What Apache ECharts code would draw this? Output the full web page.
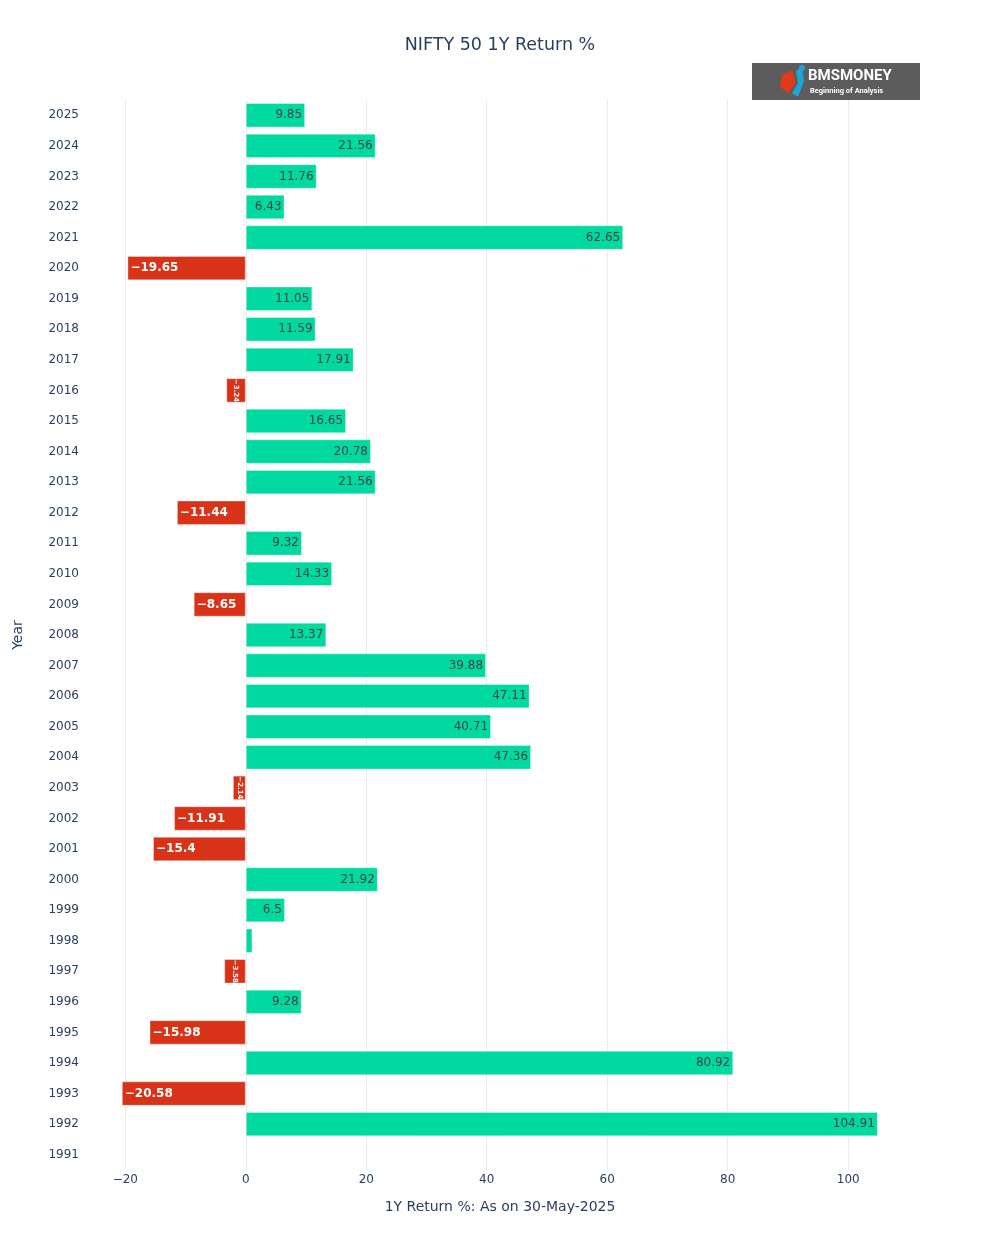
<!DOCTYPE html>
<html>
<head>
<meta charset="utf-8">
<script src="https://cdn.jsdelivr.net/npm/echarts@6/dist/echarts.min.js"></script>
<style>
  html, body { margin: 0; padding: 0; background: #fff; }
  #chart { width: 1000px; height: 1250px; }
</style>
</head>
<body>
<div id="chart"></div>
<script>
// years bottom -> top
var years = ['1991','1992','1993','1994','1995','1996','1997','1998','1999','2000',
  '2001','2002','2003','2004','2005','2006','2007','2008','2009','2010',
  '2011','2012','2013','2014','2015','2016','2017','2018','2019','2020',
  '2021','2022','2023','2024','2025'];
var returns = [null, 104.91, -20.58, 80.92, -15.98, 9.28, -3.58, 1.1, 6.5, 21.92,
  -15.4, -11.91, -2.14, 47.36, 40.71, 47.11, 39.88, 13.37, -8.65, 14.33,
  9.32, -11.44, 21.56, 20.78, 16.65, -3.24, 17.91, 11.59, 11.05, -19.65,
  62.65, 6.43, 11.76, 21.56, 9.85];
var xTicks = [-20, 0, 20, 40, 60, 80, 100];

var GREEN = '#00d9a0';
var RED = '#d83318';
var TXT = '#2a3f5f';
var FONT = 'DejaVu Sans';

function fmt(v) {
  return String(v).replace('-', '\u2212');
}

var barData = returns.map(function (v) {
  if (v === null) return { value: null };
  var neg = v < 0;
  var small = Math.abs(v) < 4;
  var label;
  if (Math.abs(v) < 1.5) {
    label = { show: false };
  } else if (small) {
    label = {
      show: true, position: 'inside', rotate: -90,
      color: '#fff', fontSize: 7, fontWeight: 'bold',
      formatter: function () { return fmt(v); }
    };
  } else if (neg) {
    label = {
      show: true, position: 'insideLeft', distance: 3,
      color: '#fff', fontSize: 12, fontWeight: 'bold',
      formatter: function () { return fmt(v); }
    };
  } else {
    label = {
      show: true, position: 'insideRight', distance: 3,
      color: '#444', fontSize: 12,
      formatter: function () { return fmt(v); }
    };
  }
  return {
    value: v,
    itemStyle: { color: neg ? RED : GREEN },
    label: label
  };
});

var chart = echarts.init(document.getElementById('chart'));
chart.setOption({
  animation: false,
  backgroundColor: '#fff',
  textStyle: { fontFamily: FONT },
  title: {
    text: 'NIFTY 50 1Y Return %',
    left: 'center', top: 31,
    textStyle: { color: TXT, fontSize: 17.5, fontWeight: 'normal', fontFamily: FONT }
  },
  grid: { left: 100, right: 100, top: 100, bottom: 80, containLabel: false },
  xAxis: {
    type: 'value',
    min: -24.2,
    max: 108.6,
    name: '1Y Return %: As on 30-May-2025',
    nameLocation: 'middle',
    nameGap: 30,
    nameTextStyle: { color: TXT, fontSize: 14, fontFamily: FONT },
    axisLine: { show: false },
    axisTick: { show: false, customValues: xTicks },
    axisLabel: {
      customValues: xTicks, color: TXT, fontSize: 12, margin: 4, fontFamily: FONT,
      formatter: function (v) { return fmt(v); }
    },
    splitLine: { show: true, lineStyle: { color: '#ebebeb', width: 1 } }
  },
  yAxis: {
    type: 'category',
    data: years,
    name: 'Year',
    nameLocation: 'middle',
    nameGap: 75,
    nameRotate: 90,
    nameTextStyle: { color: TXT, fontSize: 14, fontFamily: FONT },
    axisLine: { show: false },
    axisTick: { show: false },
    axisLabel: { color: TXT, fontSize: 12, margin: 21, interval: 0, fontFamily: FONT },
    splitLine: { show: false }
  },
  series: [{
    type: 'bar',
    data: barData,
    barCategoryGap: '20%',
    itemStyle: { borderColor: 'rgba(255,255,255,0.35)', borderWidth: 1 }
  }],
  graphic: [{
    type: 'group',
    left: 752, top: 63,
    children: [
      { type: 'rect', shape: { x: 0, y: 0, width: 168, height: 37 }, style: { fill: '#5c5c5c' } },
      { type: 'polygon', shape: { points: [[30, 12], [40, 7], [44, 20], [36, 30], [28, 24]] }, style: { fill: '#e0391c' } },
      { type: 'polygon', shape: { points: [[44, 8], [50, 4], [52, 18], [46, 34], [40, 30], [46, 20]] }, style: { fill: '#1fa3d8' } },
      { type: 'circle', shape: { cx: 50, cy: 5, r: 3 }, style: { fill: '#1fa3d8' } },
      { type: 'text', style: { x: 56, y: 6, text: 'BMSMONEY', fill: '#fff', font: 'bold 15px Roboto' } },
      { type: 'text', style: { x: 58, y: 24, text: 'Beginning of Analysis', fill: '#fff', font: 'bold 7.5px Roboto' } }
    ]
  }]
});
</script>
</body>
</html>
